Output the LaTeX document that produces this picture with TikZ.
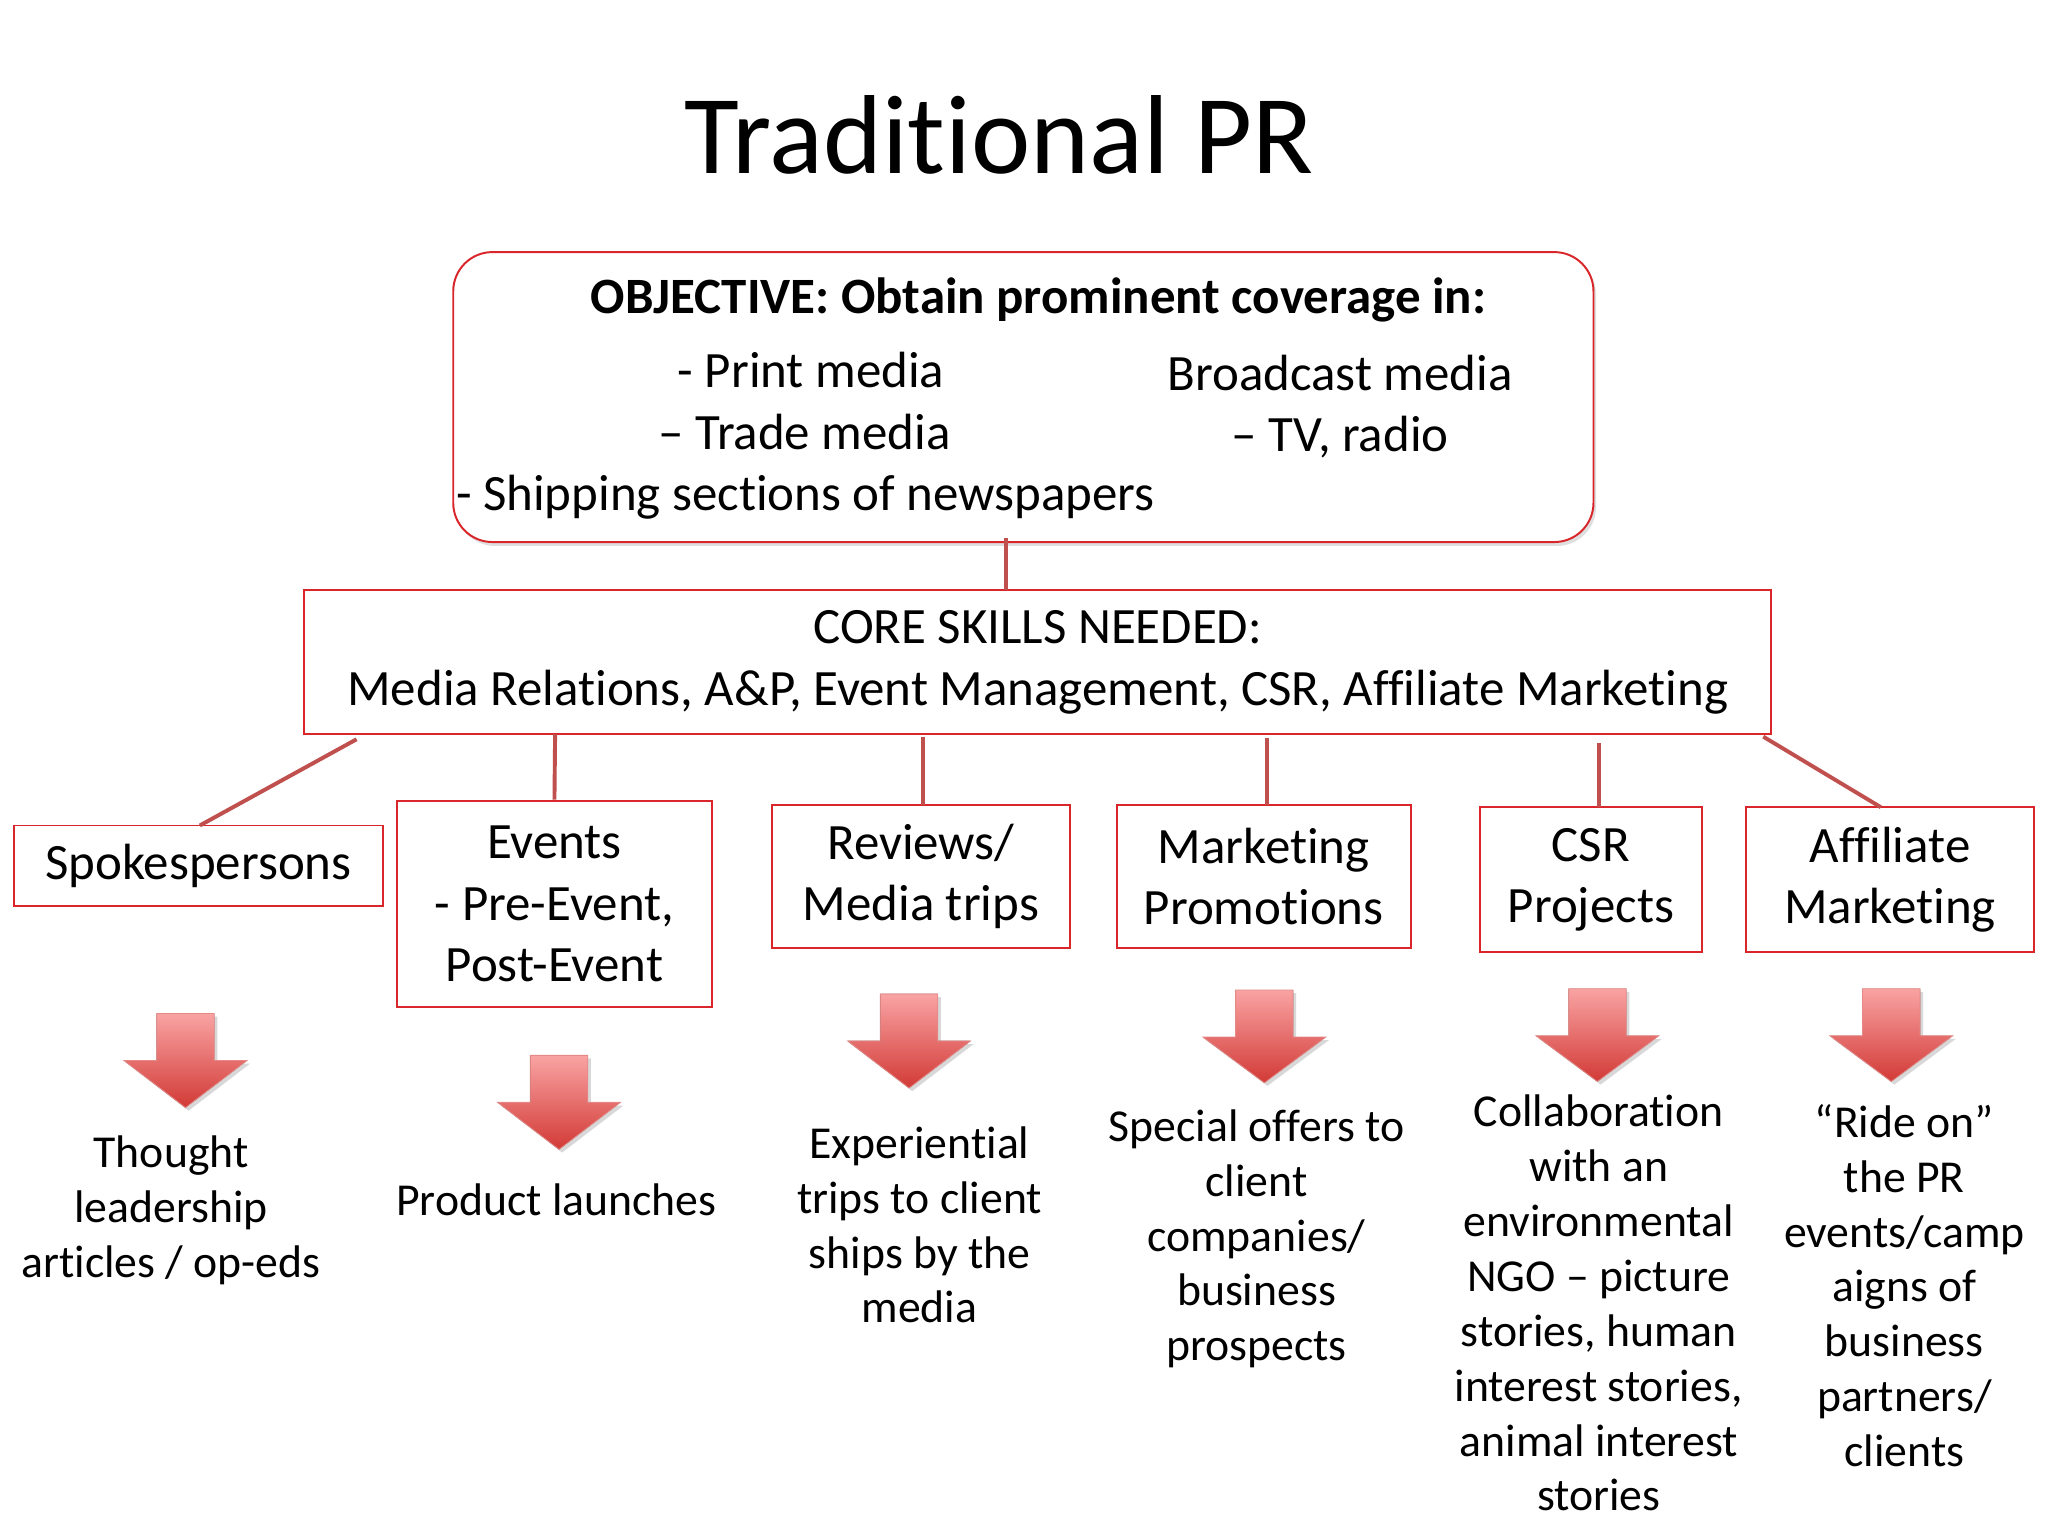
\documentclass[tikz,border=0pt]{standalone}
\usepackage{fontspec}
\setmainfont{Carlito}[Ligatures={NoCommon,TeX}]
\usetikzlibrary{shadows}
\definecolor{pr}{HTML}{D9262B}
\definecolor{ln}{HTML}{C0504D}
\definecolor{atop}{HTML}{F9A3A3}
\definecolor{abot}{HTML}{D23A36}
\tikzset{
  bx/.style={draw=pr,line width=1.5pt,align=center,inner sep=0pt,font=\fontsize{39}{47}\selectfont},
  ot/.style={font=\fontsize{39}{40}\selectfont},
  cn/.style={draw=ln,line width=3pt},
  tx/.style={align=center,font=\fontsize{35}{42}\selectfont},
  darr/.style={top color=atop,bottom color=abot,draw=abot!60!white,line width=0.6pt,drop shadow={opacity=0.3}}
}
\newcommand{\downarrowshape}[3]{%
 \fill[darr] (#1-22,#2) -- (#1+22,#2) -- (#1+22,#2+36) -- (#1+47,#2+36) -- (#1,#3) -- (#1-47,#2+36) -- (#1-22,#2+36) -- cycle;}
\begin{document}
\begin{tikzpicture}[x=1pt,y=-1pt]
\useasboundingbox (0,0) rectangle (1568,1176);
\fill[white] (0,0) rectangle (1568,1176);
\node[font=\fontsize{86}{90}\selectfont] (title) at (765,103) {Traditional PR};
\draw[pr,line width=1.5pt,rounded corners=30pt,fill=white,drop shadow={opacity=0.25,shadow xshift=2pt,shadow yshift=-3pt}] (347,193) rectangle (1220,415);
\node[font=\bfseries\fontsize{39}{40}\selectfont] (objt) at (795,230) {OBJECTIVE: Obtain prominent coverage in:};
\node[ot,anchor=base] (o1) at (621,297) {- Print media};
\node[ot,anchor=base] (o2) at (616,344) {– Trade media};
\node[ot,anchor=base west,inner sep=0] (o3) at (349,391) {- Shipping sections of newspapers};
\node[ot,anchor=base] (o4) at (1026,299) {Broadcast media};
\node[ot,anchor=base] (o5) at (1026,346) {– TV, radio};
\node[bx,minimum width=1123,minimum height=110] (core) at (794.5,507) {CORE SKILLS NEEDED:\\Media Relations, A\&P, Event Management, CSR, Affiliate Marketing};
\node[bx,minimum width=282,minimum height=62] (sp) at (152,663) {Spokespersons};
\node[bx,minimum width=241,minimum height=158] (ev) at (424.5,692) {Events\\- Pre-Event,\\Post-Event};
\node[bx,minimum width=228,minimum height=110] (rv) at (705,671) {Reviews/\\Media trips};
\node[bx,minimum width=225,minimum height=110] (mk) at (967.5,671) {Marketing\\Promotions};
\node[bx,minimum width=170,minimum height=111] (csr) at (1218,673.5) {CSR\\Projects};
\node[bx,minimum width=220,minimum height=111] (af) at (1447,673.5) {Affiliate\\Marketing};
\draw[cn] (770,412) -- (770,452);
\draw[cn] (273,566) -- (153,632);
\draw[cn] (425,562) -- (ev.north);
\draw[cn] (707,564) -- (707,616);
\draw[cn] (970,565) -- (970,616);
\draw[cn] (1224,569) -- (1224,618);
\draw[cn] (1350,564) -- (1440,618);
\downarrowshape{142}{776}{848}
\downarrowshape{428}{808}{880}
\downarrowshape{696}{761}{833}
\downarrowshape{968}{758}{829}
\downarrowshape{1223}{757}{828}
\downarrowshape{1448}{757}{828}
\node[tx,anchor=north] (t1) at (131,866) {Thought\\leadership\\articles / op-eds};
\node[tx,anchor=north] (t2) at (426,903) {Product launches};
\node[tx,anchor=north] (t3) at (704,859) {Experiential\\trips to client\\ships by the\\media};
\node[tx,anchor=north] (t4) at (962,846) {Special offers to\\client\\companies/\\business\\prospects};
\node[tx,anchor=north] (t5) at (1224,835) {Collaboration\\with an\\environmental\\NGO – picture\\stories, human\\interest stories,\\animal interest\\stories};
\node[tx,anchor=north] (t6) at (1458,842) {“Ride on”\\the PR\\events/camp\\aigns of\\business\\partners/\\clients};
\end{tikzpicture}
\end{document}
